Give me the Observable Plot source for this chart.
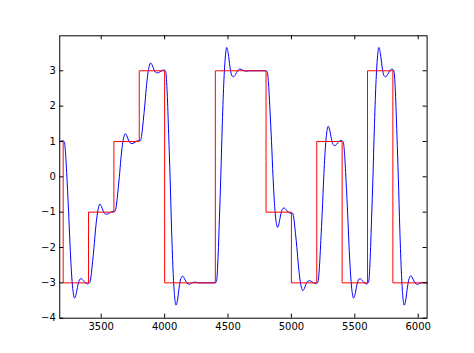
<!DOCTYPE html>
<html>
<head>
<meta charset="utf-8">
<script src="https://cdn.jsdelivr.net/npm/d3@7"></script>
<script src="https://cdn.jsdelivr.net/npm/@observablehq/plot@0.6"></script>
<style>
  html, body { margin: 0; padding: 0; background: #ffffff; }
  #chart { width: 474px; height: 353px; }
</style>
</head>
<body>
<div id="chart"></div>
<script>
// Square (target) signal: change times and levels
const stepTimes  = [3173, 3200, 3400, 3600, 3800, 4000, 4200, 4400, 4600, 4800, 5000, 5200, 5400, 5600, 5800, 6070];
const stepLevels = [1, -3, -1, 1, 3, -3, -3, 3, 3, -1, -3, 1, -3, 3, -3, -3];

// Filtered (blue) signal: [time, value]
const filtered = [
  [3173, 0.99], [3186, 1.01], [3200, 1.02], [3210, 0.97], [3220, 0.6], [3232, -0.2], [3243, -1.0], [3255, -2.0],
  [3268, -2.84], [3278, -3.24], [3290, -3.43], [3302, -3.32], [3315, -3.08], [3328, -2.92], [3342, -2.88],
  [3358, -2.93], [3375, -3.0], [3393, -3.03],
  [3400, -3.02], [3410, -2.99], [3420, -2.8], [3432, -2.4], [3443, -2.0], [3455, -1.5], [3468, -1.08],
  [3478, -0.88], [3490, -0.77], [3502, -0.84], [3515, -0.96], [3528, -1.04], [3542, -1.06], [3558, -1.04],
  [3575, -1.0], [3593, -0.98],
  [3600, -0.98], [3610, -0.97], [3620, -0.8], [3632, -0.4], [3643, 0.0], [3655, 0.5], [3668, 0.92],
  [3678, 1.12], [3690, 1.22], [3702, 1.16], [3715, 1.04], [3728, 0.96], [3742, 0.94], [3758, 0.96],
  [3775, 1.0], [3793, 1.02],
  [3800, 1.02], [3810, 1.03], [3820, 1.2], [3832, 1.6], [3843, 2.0], [3855, 2.5], [3868, 2.92],
  [3878, 3.12], [3890, 3.22], [3902, 3.16], [3915, 3.04], [3928, 2.96], [3942, 2.94], [3958, 2.96],
  [3975, 3.0], [3993, 3.02],
  [4000, 3.02], [4010, 2.95], [4020, 2.4], [4032, 1.2], [4043, 0.0], [4055, -1.5], [4068, -2.76],
  [4078, -3.36], [4090, -3.63], [4102, -3.48], [4115, -3.12], [4128, -2.88], [4142, -2.81], [4158, -2.89],
  [4175, -3.0], [4195, -3.04], [4215, -3.0], [4240, -2.98], [4270, -3.0], [4330, -3.0],
  [4400, -3.0], [4410, -2.94], [4420, -2.4], [4432, -1.2], [4443, 0.0], [4455, 1.5], [4468, 2.76],
  [4478, 3.36], [4490, 3.66], [4502, 3.48], [4515, 3.12], [4528, 2.88], [4542, 2.83], [4558, 2.89],
  [4575, 3.0], [4593, 3.05], [4615, 3.02], [4640, 2.99], [4670, 3.0], [4740, 3.0],
  [4800, 3.0], [4810, 2.96], [4820, 2.6], [4832, 1.8], [4843, 1.0], [4855, 0.0], [4868, -0.84],
  [4878, -1.24], [4890, -1.43], [4902, -1.32], [4915, -1.08], [4928, -0.92], [4942, -0.88], [4958, -0.93],
  [4975, -1.0], [4993, -1.03],
  [5000, -1.02], [5010, -1.03], [5020, -1.2], [5032, -1.6], [5043, -2.0], [5055, -2.5], [5068, -2.92],
  [5078, -3.12], [5090, -3.22], [5102, -3.16], [5115, -3.04], [5128, -2.96], [5142, -2.94], [5158, -2.96],
  [5175, -3.0], [5193, -3.02],
  [5200, -3.01], [5210, -2.97], [5220, -2.6], [5232, -1.8], [5243, -1.0], [5255, 0.0], [5268, 0.84],
  [5278, 1.24], [5290, 1.43], [5302, 1.32], [5315, 1.08], [5328, 0.92], [5342, 0.88], [5358, 0.93],
  [5375, 1.0], [5393, 1.03],
  [5400, 1.02], [5410, 0.97], [5420, 0.6], [5432, -0.2], [5443, -1.0], [5455, -2.0], [5468, -2.84],
  [5478, -3.24], [5490, -3.43], [5502, -3.32], [5515, -3.08], [5528, -2.92], [5542, -2.88], [5558, -2.93],
  [5575, -3.0], [5593, -3.03],
  [5600, -3.02], [5610, -2.95], [5620, -2.4], [5632, -1.2], [5643, 0.0], [5655, 1.5], [5668, 2.76],
  [5678, 3.36], [5690, 3.66], [5702, 3.48], [5715, 3.12], [5728, 2.88], [5742, 2.83], [5758, 2.89],
  [5775, 3.0], [5793, 3.05],
  [5800, 3.04], [5810, 2.96], [5820, 2.4], [5832, 1.2], [5843, 0.0], [5855, -1.5], [5868, -2.76],
  [5878, -3.36], [5890, -3.63], [5902, -3.48], [5915, -3.12], [5928, -2.88], [5942, -2.8], [5958, -2.89],
  [5975, -3.0], [5993, -3.04], [6010, -3.02], [6030, -2.99], [6050, -2.99], [6070, -3.0]
];

const xTicks = [3500, 4000, 4500, 5000, 5500, 6000];
const yTicks = [-4, -3, -2, -1, 0, 1, 2, 3];
const xDomain = [3173, 6070];
const yDomain = [-4, 3.99];

const W = 474, H = 353;
const mL = 59.25, mR = 47.4, mT = 35.3, mB = 35.3;
const fw = W - mL - mR, fh = H - mT - mB;
const tickLen = 4;
const fmt = d => (d < 0 ? "\u2212" : "") + Math.abs(d);

const squareData = stepTimes.map((t, i) => ({t, v: stepLevels[i]}));
const blueData = filtered.map(([t, v]) => ({t, v}));

const chart = Plot.plot({
  width: W,
  height: H,
  marginLeft: mL,
  marginRight: mR,
  marginTop: mT,
  marginBottom: mB,
  style: {fontFamily: "'DejaVu Sans', sans-serif", fontSize: "10px", color: "black", background: "white", overflow: "visible"},
  x: {domain: xDomain, ticks: xTicks, tickFormat: fmt, tickSize: 0, tickPadding: 5, label: null},
  y: {domain: yDomain, ticks: yTicks, tickFormat: fmt, tickSize: 0, tickPadding: 4, label: null},
  marks: [
    Plot.line(blueData, {x: "t", y: "v", curve: "monotone-x", stroke: "#0000ff", strokeWidth: 1}),
    Plot.line(squareData, {x: "t", y: "v", curve: "step-after", stroke: "#ff0000", strokeWidth: 1}),
    Plot.frame({stroke: "black", strokeWidth: 1}),
    Plot.tickX(xTicks, {x: d => d, insetTop: fh - tickLen, stroke: "black"}),
    Plot.tickX(xTicks, {x: d => d, insetBottom: fh - tickLen, stroke: "black"}),
    Plot.tickY(yTicks, {y: d => d, insetRight: fw - tickLen, stroke: "black"}),
    Plot.tickY(yTicks, {y: d => d, insetLeft: fw - tickLen, stroke: "black"})
  ]
});
document.getElementById("chart").appendChild(chart);
</script>
</body>
</html>
